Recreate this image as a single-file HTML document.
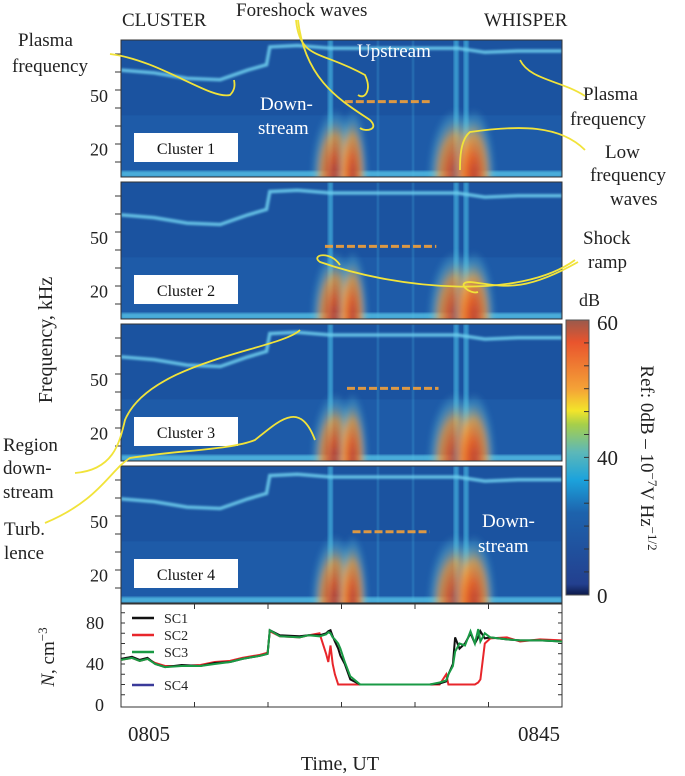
<!DOCTYPE html>
<html><head><meta charset="utf-8"><style>
html,body{margin:0;padding:0;background:#fff;}
svg{display:block;font-family:"Liberation Serif",serif;}
</style></head><body>
<svg id="fig" width="685" height="776" viewBox="0 0 685 776">
<defs>
<filter id="bl1"><feGaussianBlur stdDeviation="1"/></filter>
<filter id="bl3" x="-50%" y="-50%" width="200%" height="200%"><feGaussianBlur stdDeviation="3"/></filter>
<linearGradient id="cbar" x1="0" y1="1" x2="0" y2="0">
<stop offset="0" stop-color="#0d1a4a"/><stop offset="0.04" stop-color="#23408f"/>
<stop offset="0.3" stop-color="#1d63ad"/><stop offset="0.42" stop-color="#1ca3dc"/>
<stop offset="0.52" stop-color="#5db8b8"/><stop offset="0.62" stop-color="#a6cf4a"/>
<stop offset="0.67" stop-color="#f3e52a"/><stop offset="0.75" stop-color="#f4a237"/>
<stop offset="0.92" stop-color="#e9542d"/><stop offset="1" stop-color="#9a5a4c"/>
</linearGradient>
<radialGradient id="hot"><stop offset="0" stop-color="#b8322a"/><stop offset="0.3" stop-color="#ea5a22"/><stop offset="0.6" stop-color="#f6a43a" stop-opacity="0.85"/><stop offset="0.85" stop-color="#5fc1d8" stop-opacity="0.4"/><stop offset="1" stop-color="#5fc1d8" stop-opacity="0"/></radialGradient>
</defs>
<g id="panels"></g>
<g id="lineplot"></g>
<g id="annot"></g>
</svg>
<script>
// ---------- Data ----------
const panelNames = ["Cluster 1","Cluster 2","Cluster 3","Cluster 4"];
const freqTicks = [50, 20];
// plasma frequency line (time in minutes 0..40, fraction from top)
const plasmaT = [0, 3, 6, 9, 11.5, 13.2, 13.5, 16, 19, 30.5, 33, 36, 40];
const plasmaF = [0.22, 0.24, 0.28, 0.29, 0.22, 0.18, 0.05, 0.04, 0.06, 0.06, 0.09, 0.08, 0.08];
// low-frequency wave bursts (minutes) and widths
const hotT = [19.4, 21.0, 30.4, 32.0];
const hotW = [2.0, 1.3, 2.4, 1.8];
// bright vertical stripes (minutes)
const stripeT = [19.0, 30.4, 31.3, 23.3, 26.5];
// upstream line time range per panel (minutes) and frequency fraction
const upStart = [20.3, 18.5, 20.5, 21.0];
const upEnd = [28.0, 28.6, 28.8, 28.0];
const upF = [0.45, 0.47, 0.47, 0.48];
// density time series (minutes, cm^-3)
const nT   = [0, 1, 1.7, 2.4, 3.1, 4.0, 5.5, 7.2, 8.5, 9.9, 11, 12.6, 13.3, 13.5, 14.4, 16.2, 17, 18.0, 18.6, 18.8, 19.0, 19.2, 19.4, 19.7, 19.9, 20.3, 20.8, 21.7, 25.3, 28.0, 28.9, 29.5, 29.7, 30.1, 30.3, 30.7, 31.2, 31.7, 32.1, 32.4, 32.6, 33.0, 33.5, 35, 36.2, 38, 40];
const sc1  = [45, 47, 44, 46, 40, 37, 39, 38, 41, 42, 45, 48, 50, 73, 68, 67, 68, 68, 70, 72, 73, 67, 62, 55, 48, 40, 25, 20, 20, 20, 21, 23, 30, 40, 66, 55, 60, 70, 60, 66, 72, 65, 66, 64, 63, 63, 62];
const sc2  = [44, 46, 43, 45, 41, 38, 38, 39, 42, 43, 46, 49, 51, 72, 67, 66, 68, 70, 50, 42, 58, 40, 30, 20, 20, 20, 20, 20, 20, 20, 20, 30, 20, 20, 20, 20, 20, 20, 20, 22, 25, 60, 65, 66, 62, 64, 63];
const sc3  = [44, 46, 43, 45, 40, 37, 38, 38, 40, 42, 45, 48, 50, 73, 67, 66, 68, 67, 69, 71, 70, 66, 64, 60, 55, 42, 28, 20, 20, 20, 22, 24, 30, 38, 52, 60, 58, 72, 60, 74, 62, 70, 66, 64, 63, 63, 62];
const nTicks = [0, 40, 80];

// ---------- Layout ----------
const NS = "http://www.w3.org/2000/svg";
const X0 = 121, X1 = 562;
const tx = t => X0 + (t / 40) * (X1 - X0);
const panelTop = [40, 182, 324, 466], panelH = 137;
function el(tag, attrs, parent){const e=document.createElementNS(NS,tag);for(const k in attrs)e.setAttribute(k,attrs[k]);parent.appendChild(e);return e;}
const fy = (f, top) => top + f * panelH;
const logF = f => 0.41 + (Math.log(50) - Math.log(f)) / (Math.log(50) - Math.log(20)) * 0.39;

const gp = document.getElementById('panels');
panelNames.forEach((name, i) => {
  const top = panelTop[i];
  const g = el('g', {}, gp);
  
  
  const cp = el('clipPath', {id: 'cp' + i}, g);
  el('rect', {x: X0, y: top, width: X1 - X0, height: panelH}, cp);
  const inner = el('g', {'clip-path': 'url(#cp' + i + ')'}, g);
  el('rect', {x: X0, y: top, width: X1 - X0, height: panelH, fill: '#1b53a0'}, inner);
  el('rect', {x: X0, y: top + panelH * 0.55, width: X1 - X0, height: panelH * 0.45, fill: '#1f60ab', opacity: 0.7}, inner);
  stripeT.forEach((t, k) => {
    const s = el('rect', {x: tx(t) - (k < 3 ? 2.5 : 1), y: top, width: k < 3 ? 5 : 2, height: panelH, fill: '#45b4e0', opacity: k < 3 ? 0.7 : 0.4, filter: 'url(#bl1)'}, inner);
    
    
  });
  const pts = plasmaT.map((t, k) => tx(t).toFixed(1) + ',' + fy(plasmaF[k] + (i === 0 ? 0 : 0.02), top).toFixed(1)).join(' ');
  const pl = el('polyline', {points: pts, fill: 'none', stroke: '#6fd0ef', 'stroke-width': 3.5, opacity: 0.85, filter: 'url(#bl1)'}, inner);
  
  
  const ul = el('line', {x1: tx(upStart[i]), x2: tx(upEnd[i]), y1: fy(upF[i], top), y2: fy(upF[i], top), stroke: '#f2a03a', 'stroke-width': 3, 'stroke-dasharray': '8 3', opacity: 0.9}, inner);
  
  
  el('rect', {x: X0, y: top + panelH - 6, width: X1 - X0, height: 6, fill: '#55c3e6', opacity: 0.8, filter: 'url(#bl1)'}, inner);
  hotT.forEach((t, k) => {
    const h = el('ellipse', {cx: tx(t), cy: top + panelH, rx: hotW[k] * 12, ry: panelH * 0.5, fill: 'url(#hot)', opacity: 0.85, filter: 'url(#bl3)'}, inner);
    
    
  });
  el('rect', {x: X0, y: top, width: X1 - X0, height: panelH, fill: 'none', stroke: '#333', 'stroke-width': 1}, g);
  for (let k = 1; k < 8; k++) el('line', {x1: X0 - 6, x2: X0, y1: top + k * 18 - 4, y2: top + k * 18 - 4, stroke: '#333'}, g);
  freqTicks.forEach(f => {
    const t = el('text', {x: 108, y: fy(logF(f), top) + 6, 'text-anchor': 'end', 'font-size': 18, fill: '#222'}, g);
    t.textContent = f;
    
    
  });
  const lb = el('g', {}, g);
  
  
  el('rect', {x: 134, y: top + 93, width: 104, height: 29, fill: '#fff'}, lb);
  const lt = el('text', {x: 186, y: top + 114, 'text-anchor': 'middle', 'font-size': 16, fill: '#111'}, lb);
  lt.textContent = name;
});

// ---------- Density line plot ----------
const lp = document.getElementById('lineplot');
const LT = 604, LB = 707;
const ny = v => 705 - v * 1.025;
el('rect', {x: X0, y: LT, width: X1 - X0, height: LB - LT, fill: '#fff', stroke: '#333'}, lp);
for (let k = 1; k < 6; k++) { const x = X0 + k * 73.5; el('line', {x1: x, x2: x, y1: LT, y2: LT + 5, stroke: '#333'}, lp); el('line', {x1: x, x2: x, y1: LB, y2: LB - 5, stroke: '#333'}, lp); }
for (let v = 10; v < 100; v += 10) { el('line', {x1: X0, x2: X0 + 4, y1: ny(v), y2: ny(v), stroke: '#333'}, lp); el('line', {x1: X1, x2: X1 - 4, y1: ny(v), y2: ny(v), stroke: '#333'}, lp); }
nTicks.forEach(v => {
  const t = el('text', {x: 104, y: ny(v) + 6, 'text-anchor': 'end', 'font-size': 18, fill: '#222'}, lp);
  t.textContent = v;
  
  
});
function series(vals, color, name){
  const p = el('polyline', {points: nT.map((t, k) => tx(t).toFixed(1) + ',' + ny(vals[k]).toFixed(1)).join(' '), fill: 'none', stroke: color, 'stroke-width': 2}, lp);
  
  
}
series(sc2, '#e8262b', 'sc2-line');
series(sc1, '#111', 'sc1-line');
series(sc3, '#1a9a45', 'sc3-line');
[['SC1','#111',618],['SC2','#e8262b',635],['SC3','#1a9a45',652],['SC4','#3a3a9a',685]].forEach(([n,c,y]) => {
  const g = el('g', {}, lp);
  
  
  el('line', {x1: 132, x2: 154, y1: y, y2: y, stroke: c, 'stroke-width': 2.5}, g);
  const t = el('text', {x: 164, y: y + 5, 'font-size': 14, fill: '#222'}, g); t.textContent = n;
});
</script>
<script>
(function(){
const NS="http://www.w3.org/2000/svg";
const a=document.getElementById('annot');
function el(tag,attrs,parent){const e=document.createElementNS(NS,tag);for(const k in attrs)e.setAttribute(k,attrs[k]);parent.appendChild(e);return e;}
const cb=el('g',{},a);


el('rect',{x:566,y:320,width:23,height:275,fill:'url(#cbar)',stroke:'#555'},cb);
for(let k=1;k<12;k++) el('line',{x1:584,x2:589,y1:320+k*22.9,y2:320+k*22.9,stroke:'#333'},cb);
function txt(s,x,y,opts,name){const t=el('text',Object.assign({x:x,y:y,'font-size':19,fill:'#222'},opts||{}),a);t.textContent=s;return t;}
txt('dB',579,306,{'font-size':18},'colorbar-unit');
txt('60',597,330,{'font-size':21},'colorbar-tick-60');
txt('40',597,465,{'font-size':21},'colorbar-tick-40');
txt('0',597,603,{'font-size':21},'colorbar-tick-0');
const rl=el('text',{x:0,y:0,'font-size':19,fill:'#222',transform:'translate(641,458) rotate(90)','text-anchor':'middle'},a);

rl.innerHTML='Ref: 0dB – 10<tspan dy="-7" font-size="13">−7</tspan><tspan dy="7">V Hz</tspan><tspan dy="-7" font-size="13">−1/2</tspan>';
const fl=el('text',{x:0,y:0,'font-size':20,fill:'#222',transform:'translate(52,340) rotate(-90)','text-anchor':'middle'},a);

fl.textContent='Frequency, kHz';
const nl=el('text',{x:0,y:0,'font-size':19,fill:'#222',transform:'translate(54,657) rotate(-90)','text-anchor':'middle'},a);

nl.innerHTML='<tspan font-style="italic">N</tspan>, cm<tspan dy="-7" font-size="13">−3</tspan>';
txt('0805',128,741,{'font-size':21},'x-tick-0805');
txt('0845',518,741,{'font-size':21},'x-tick-0845');
txt('Time, UT',340,770,{'font-size':20,'text-anchor':'middle'},'x-axis-title');
txt('CLUSTER',122,26,{'font-size':19},'cluster-label');
txt('WHISPER',484,26,{'font-size':19},'whisper-label');
txt('Foreshock waves',236,16,{'font-size':19},'foreshock-waves-label');
txt('Plasma',18,46,{},'plasma-frequency-left');txt('frequency',12,72,{},'plasma-frequency-left-2');
txt('Upstream',357,57,{fill:'#fff'},'upstream-label');
txt('Down-',260,110,{fill:'#fff'},'downstream-label');txt('stream',258,134,{fill:'#fff'},'downstream-label-2');
txt('Plasma',583,100,{},'plasma-frequency-right');txt('frequency',570,125,{},'plasma-frequency-right-2');
txt('Low',605,158,{},'low-frequency-waves');txt('frequency',590,181,{},'low-frequency-waves-2');txt('waves',610,205,{},'low-frequency-waves-3');
txt('Shock',583,244,{},'shock-ramp');txt('ramp',588,268,{},'shock-ramp-2');
txt('Region',3,451,{},'region-downstream');txt('down-',3,474,{},'region-downstream-2');txt('stream',3,498,{},'region-downstream-3');
txt('Turb.',4,535,{},'turbulence');txt('lence',4,559,{},'turbulence-2');
txt('Down-',482,527,{fill:'#fff'},'downstream-label-right');txt('stream',478,552,{fill:'#fff'},'downstream-label-right-2');
const curves=['M110,54 C160,60 210,100 230,95 C235,90 235,85 234,80',
'M296,20 C300,60 320,50 365,75 C372,90 365,100 358,95',
'M298,20 C305,80 340,100 370,120 C380,130 365,132 360,128',
'M585,96 C560,80 530,80 520,60',
'M585,150 C560,125 520,125 470,132 C460,140 460,160 460,170',
'M575,260 C520,300 400,290 320,262 C310,255 330,250 340,265',
'M578,262 C520,295 500,285 470,282 C455,282 470,295 478,292',
'M75,473 C115,470 120,440 125,420 C150,360 280,350 300,330',
'M45,523 C100,500 110,470 130,458 C180,450 230,450 255,440 C280,420 300,400 315,440'];
curves.forEach((d,k)=>{const p=el('path',{d:d,fill:'none',stroke:'#f1e33a','stroke-width':1.8},a);});
})();
</script>
</body></html>
